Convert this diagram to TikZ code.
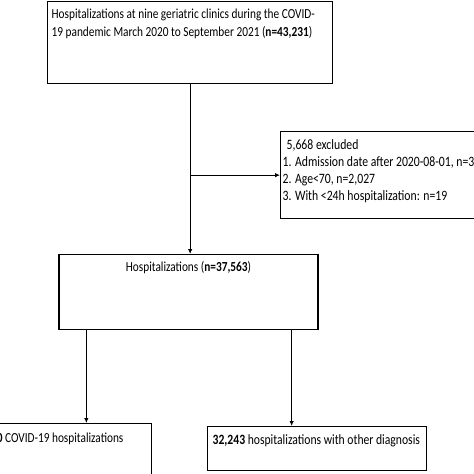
\documentclass[tikz,border=0pt]{standalone}
\usepackage{fontspec}
\setmainfont[FakeStretch=0.82]{Carlito}
\usetikzlibrary{arrows.meta,positioning,calc}

\begin{document}
\begin{tikzpicture}[x=1pt,y=-1pt,
    every node/.style={font=\fontsize{13.8}{18}\selectfont},
    box/.style={draw,line width=1.3pt,inner xsep=4pt,inner ysep=4pt,anchor=north west},
    flow/.style={-{Latex[length=5pt,width=4.5pt]},line width=0.9pt}]
  \useasboundingbox (0,0) rectangle (474,474);
  \clip (0,0) rectangle (474,474);
  \node[box] (total) at (47,1) {\parbox[c][74pt][t]{277pt}{\strut Hospitalizations at nine geriatric clinics during the COVID-\\19 pandemic March 2020 to September 2021 (\textbf{n=43,231})}};
  \node[box,inner xsep=2pt,font=\fontsize{14.3}{17}\selectfont] (excl) at (280,131) {\parbox[c][79pt][t]{240pt}{\vspace*{2pt}\strut\hspace*{4pt}5,668 excluded\\1. Admission date after 2020-08-01, n=3,622\\2. Age<70, n=2,027\\3. With <24h hospitalization: n=19}};
  \node[box,anchor=north] (hosp) at (188.5,254) {\parbox[c][67pt][t]{251pt}{\centering\strut Hospitalizations (\textbf{n=37,563})}};
  \node[box,inner xsep=5pt] (covid) at (-29,423) {\parbox[c][44pt][t]{170pt}{\vspace*{2pt}\strut\textbf{5,320} COVID-19 hospitalizations}};
  \node[box,inner xsep=5pt,font=\fontsize{14.2}{18}\selectfont] (other) at (207,426) {\parbox[c][36pt][t]{209pt}{\vspace*{1pt}\strut\textbf{32,243} hospitalizations with other diagnosis}};
  % connectors
  \draw[flow] (total.south) -- (total.south |- hosp.north);
  \coordinate (split) at (total.south |- excl.west);
  \draw[flow] (split) -- (excl.west);
  \coordinate (left) at ($(hosp.south west)+(28,0)$);
  \coordinate (right) at ($(hosp.south east)+(-27,0)$);
  \draw[flow] (left) -- (left |- covid.north);
  \draw[flow] (right) -- (right |- other.north);
\end{tikzpicture}
\end{document}
